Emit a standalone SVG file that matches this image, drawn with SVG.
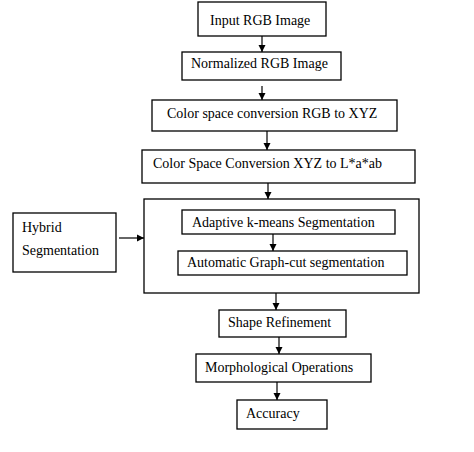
<svg xmlns="http://www.w3.org/2000/svg" width="474" height="452" viewBox="0 0 474 452">
<style>
rect{fill:#fff;stroke:#000;stroke-width:1.3}
text{font-family:"Liberation Serif","Times New Roman",serif;font-size:14px;fill:#000}
.c line{stroke:#000;stroke-width:1.2;marker-end:url(#ah)}
</style>
<defs>
<marker id="ah" markerWidth="8" markerHeight="8" refX="7" refY="4" orient="auto" markerUnits="userSpaceOnUse">
<path d="M0,0.5 L7,4 L0,7.5 Z" fill="#000"/>
</marker>
</defs>
<rect x="0" y="0" width="474" height="452" style="stroke:none"/>
<g id="n1"><rect x="198" y="2" width="128" height="34"/><text x="210" y="25">Input RGB Image</text></g>
<g id="n2"><rect x="182" y="52" width="159" height="28"/><text x="191" y="68">Normalized RGB Image</text></g>
<g id="n3"><rect x="152" y="100" width="245" height="31"/><text x="167" y="118">Color space conversion RGB to XYZ</text></g>
<g id="n4"><rect x="142" y="150" width="273" height="33"/><text x="153" y="168">Color Space Conversion XYZ to L*a*ab</text></g>
<g id="n5"><rect x="144" y="199" width="275" height="94"/></g>
<g id="n6"><rect x="182" y="210" width="213" height="24"/><text x="192" y="227">Adaptive k-means Segmentation</text></g>
<g id="n7"><rect x="178" y="251" width="229" height="24"/><text x="187" y="267">Automatic Graph-cut segmentation</text></g>
<g id="n8"><rect x="13" y="213" width="103" height="59"/><text x="22" y="232">Hybrid</text><text x="22" y="255">Segmentation</text></g>
<g id="n9"><rect x="219" y="310" width="127" height="27"/><text x="228" y="327">Shape Refinement</text></g>
<g id="n10"><rect x="196" y="354" width="175" height="28"/><text x="205" y="372">Morphological Operations</text></g>
<g id="n11"><rect x="237" y="400" width="90" height="29"/><text x="246" y="418">Accuracy</text></g>
<g class="c" id="connectors">
<line x1="262" y1="36" x2="262" y2="52"/>
<line x1="262" y1="86" x2="262" y2="100"/>
<line x1="267" y1="131" x2="267" y2="150"/>
<line x1="268" y1="183" x2="268" y2="199"/>
<line x1="273" y1="234" x2="273" y2="251"/>
<line x1="119" y1="238" x2="144" y2="238"/>
<line x1="276" y1="293" x2="276" y2="310"/>
<line x1="279" y1="337" x2="279" y2="354"/>
<line x1="277" y1="382" x2="277" y2="400"/>
</g>
</svg>
